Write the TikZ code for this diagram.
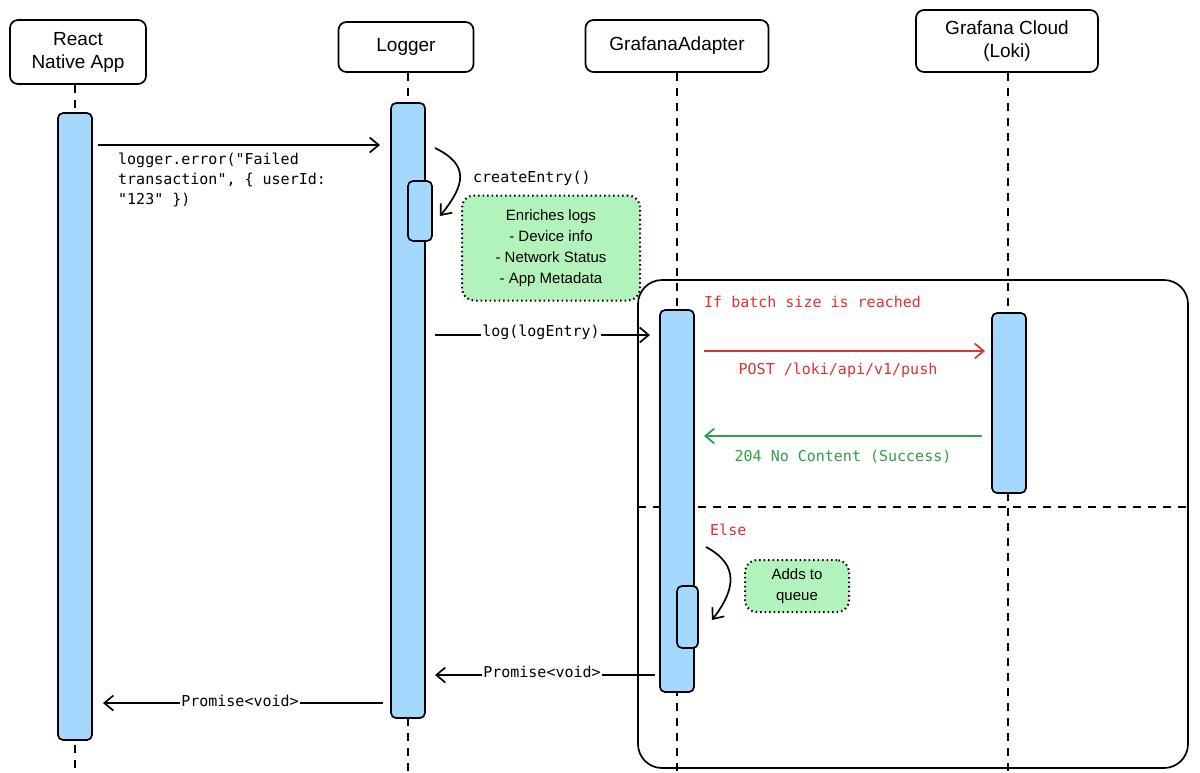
\documentclass[tikz,border=0pt]{standalone}
\usepackage{fontspec}
\setmainfont{Liberation Sans}
\setmonofont{DejaVu Sans Mono}
\usetikzlibrary{arrows.meta}
\definecolor{actblue}{HTML}{A5D8FF}
\definecolor{notegreen}{HTML}{B2F2BB}
\definecolor{exred}{HTML}{E03131}
\definecolor{exgreen}{HTML}{2F9E44}
\begin{document}
\begin{tikzpicture}[x=1pt,y=-1pt,line width=1.7pt,
  hdr/.style={draw,line width=1.7pt,rounded corners=8pt,fill=white,align=center,font=\fontsize{19}{23}\selectfont},
  life/.style={line width=1.7pt,dash pattern=on 8pt off 7pt},
  act/.style={draw,line width=1.7pt,fill=actblue,rounded corners=5pt},
  msg/.style={line width=1.7pt,-{Straight Barb[length=9pt,width=15pt]}},
  lbl/.style={font=\ttfamily\fontsize{15}{20}\selectfont,align=left},
  note/.style={draw,line width=2pt,dash pattern=on 1.5pt off 3pt,fill=notegreen,rounded corners=12pt,align=center,font=\fontsize{15}{21}\selectfont}]
\useasboundingbox (0,0) rectangle (1200,772);
% alt frame
\draw[rounded corners=24pt] (638,280) rectangle (1188,768);
\draw[life] (638,507) -- (1188,507);
% headers
\node[hdr,minimum width=136pt,minimum height=64pt] (rn) at (78,52) {React\\Native App};
\node[hdr,minimum width=135pt,minimum height=50pt] (lg) at (406,47) {Logger};
\node[hdr,minimum width=183pt,minimum height=52pt] (ga) at (677,46) {GrafanaAdapter};
\node[hdr,minimum width=182pt,minimum height=62pt] (gc) at (1007,41) {Grafana Cloud\\(Loki)};
\coordinate (rnE) at (75,772); \coordinate (lgE) at (408,772);
\coordinate (gaE) at (677,772); \coordinate (gcE) at (1008,772);
\draw[life] (75,85) -- (rnE);
\draw[life] (408,73) -- (lgE);
\draw[life] (677,73) -- (gaE);
\draw[life] (1008,73) -- (gcE);
% activations
\draw[act] (58,113) rectangle (92,740);
\draw[act] (391,103) rectangle (425,718);
\draw[act] (408,181) rectangle (432,241);
\draw[act] (660,310) rectangle (694,692);
\draw[act] (677,586) rectangle (698,648);
\draw[act] (992,313) rectangle (1026,493);
% messages
\coordinate (a1) at (98,145); \coordinate (a2) at (380,145);
\draw[msg] (a1) -- (a2);
\node[lbl,anchor=north west] (l1) at (114,149) {logger.error("Failed\\transaction", \{ userId:\\"123" \})};
\coordinate (s1) at (435,148); \coordinate (s2) at (440,216);
\draw[msg] (s1) .. controls (470,165) and (465,185) .. (s2);
\node[lbl,anchor=west] (l2) at (469,178) {createEntry()};
\node[note,minimum width=178pt,minimum height=105pt] (n1) at (551,248) {Enriches logs\\- Device info\\- Network Status\\- App Metadata};
\coordinate (b1) at (435,335); \coordinate (b2) at (650,335);
\draw[msg] (b1) -- (b2);
\node[lbl,fill=white,inner sep=1pt] (l3) at (541,332) {log(logEntry)};
\node[lbl,text=exred,anchor=west] (c1) at (700,302) {If batch size is reached};
\coordinate (p1) at (704,351); \coordinate (p2) at (985,351);
\draw[msg,exred] (p1) -- (p2);
\node[lbl,text=exred] (l4) at (838,370) {POST /loki/api/v1/push};
\coordinate (g1) at (982,436); \coordinate (g2) at (704,436);
\draw[msg,exgreen] (g1) -- (g2);
\node[lbl,text=exgreen] (l5) at (843,457) {204 No Content (Success)};
\node[lbl,text=exred,anchor=west] (c2) at (706,530) {Else};
\coordinate (s3) at (706,547); \coordinate (s4) at (712,620);
\draw[msg] (s3) .. controls (740,565) and (735,590) .. (s4);
\node[note,minimum width=104pt,minimum height=52pt] (n2) at (797,586) {Adds to\\queue};
\coordinate (r1) at (655,675); \coordinate (r2) at (435,675);
\draw[msg] (r1) -- (r2);
\node[lbl,fill=white,inner sep=1pt] (l6) at (542,672) {Promise<void>};
\coordinate (q1) at (383,703); \coordinate (q2) at (103,703);
\draw[msg] (q1) -- (q2);
\node[lbl,fill=white,inner sep=1pt] (l7) at (240,701) {Promise<void>};
\end{tikzpicture}
\end{document}
